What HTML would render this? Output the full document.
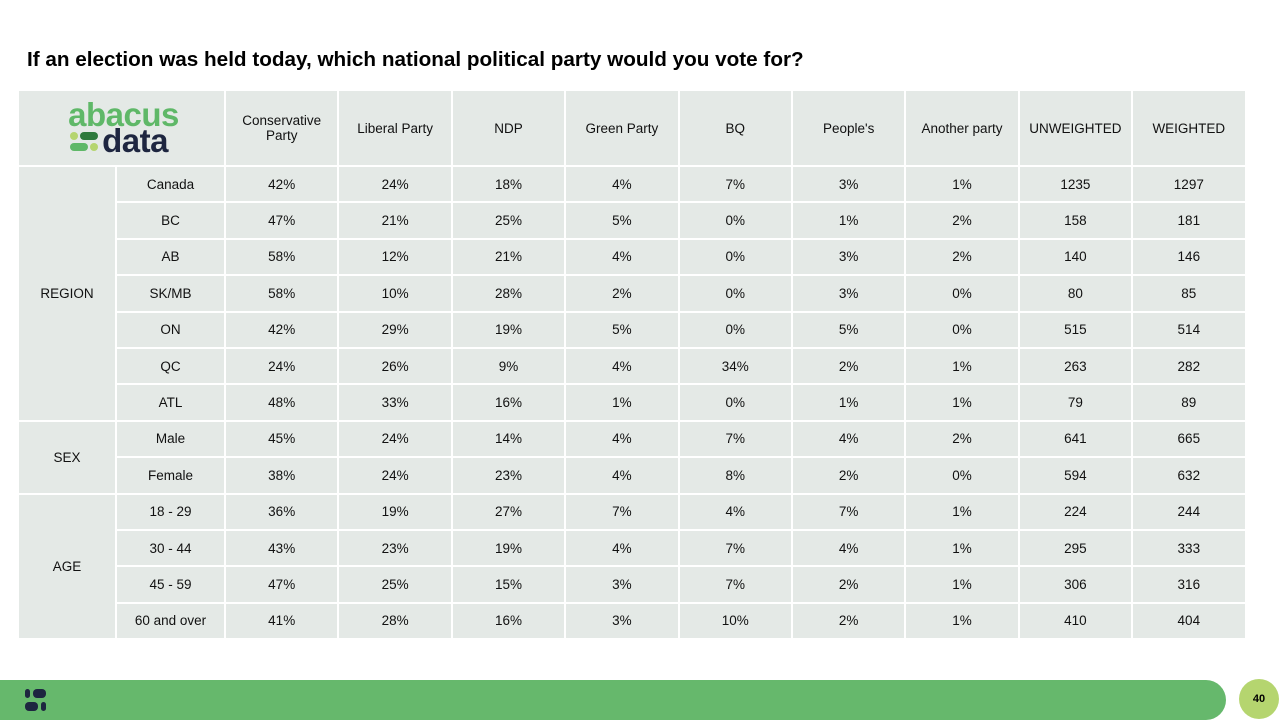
<!DOCTYPE html>
<html><head><meta charset="utf-8"><style>
body{margin:0;width:1280px;height:720px;background:#fff;position:relative;overflow:hidden;font-family:"Liberation Sans",sans-serif;}
h1{position:absolute;left:27px;top:48px;margin:0;font-size:20.7px;font-weight:bold;color:#000;}
table{position:absolute;left:17px;top:89px;border-collapse:collapse;table-layout:fixed;}
td{background:#e4e9e6;border:2px solid #fff;text-align:center;font-size:13.5px;color:#111;padding:0;height:34.4px;}
tr.h td{height:74px;}
.bar{position:absolute;left:0;top:680px;width:1226px;height:40px;background:#66b86c;border-radius:0 20px 20px 0;}
.pg{position:absolute;left:1239px;top:679px;width:40px;height:40px;border-radius:50%;background:#b5d56f;font-size:11px;font-weight:bold;text-align:center;line-height:40px;}
</style></head><body>
<h1>If an election was held today, which national political party would you vote for?</h1>
<table>
<colgroup><col style="width:98px"><col style="width:109px"><col span="9" style="width:113.4px"></colgroup>
<tr class="h"><td colspan="2">
<div style="display:inline-block;text-align:left;line-height:26px;font-weight:bold;font-size:33px;letter-spacing:-0.5px;margin-left:4px">
<div style="color:#5fb868">abacus</div>
<div style="color:#1e2640;position:relative;padding-left:34px"><span style="position:absolute;left:2px;top:4px;width:8px;height:8px;border-radius:50%;background:#b5d56f"></span><span style="position:absolute;left:12px;top:4px;width:18px;height:8px;border-radius:4px;background:#2e7a3c"></span><span style="position:absolute;left:2px;top:15px;width:18px;height:8px;border-radius:4px;background:#5fb868"></span><span style="position:absolute;left:22px;top:15px;width:8px;height:8px;border-radius:50%;background:#b5d56f"></span>data</div></div></td>
<td>Conservative<br>Party</td><td>Liberal Party</td><td>NDP</td><td>Green Party</td><td>BQ</td><td>People's</td><td>Another party</td><td>UNWEIGHTED</td><td>WEIGHTED</td></tr>
<tr><td rowspan="7">REGION</td><td>Canada</td><td>42%</td><td>24%</td><td>18%</td><td>4%</td><td>7%</td><td>3%</td><td>1%</td><td>1235</td><td>1297</td></tr>
<tr><td>BC</td><td>47%</td><td>21%</td><td>25%</td><td>5%</td><td>0%</td><td>1%</td><td>2%</td><td>158</td><td>181</td></tr>
<tr><td>AB</td><td>58%</td><td>12%</td><td>21%</td><td>4%</td><td>0%</td><td>3%</td><td>2%</td><td>140</td><td>146</td></tr>
<tr><td>SK/MB</td><td>58%</td><td>10%</td><td>28%</td><td>2%</td><td>0%</td><td>3%</td><td>0%</td><td>80</td><td>85</td></tr>
<tr><td>ON</td><td>42%</td><td>29%</td><td>19%</td><td>5%</td><td>0%</td><td>5%</td><td>0%</td><td>515</td><td>514</td></tr>
<tr><td>QC</td><td>24%</td><td>26%</td><td>9%</td><td>4%</td><td>34%</td><td>2%</td><td>1%</td><td>263</td><td>282</td></tr>
<tr><td>ATL</td><td>48%</td><td>33%</td><td>16%</td><td>1%</td><td>0%</td><td>1%</td><td>1%</td><td>79</td><td>89</td></tr>
<tr><td rowspan="2">SEX</td><td>Male</td><td>45%</td><td>24%</td><td>14%</td><td>4%</td><td>7%</td><td>4%</td><td>2%</td><td>641</td><td>665</td></tr>
<tr><td>Female</td><td>38%</td><td>24%</td><td>23%</td><td>4%</td><td>8%</td><td>2%</td><td>0%</td><td>594</td><td>632</td></tr>
<tr><td rowspan="4">AGE</td><td>18 - 29</td><td>36%</td><td>19%</td><td>27%</td><td>7%</td><td>4%</td><td>7%</td><td>1%</td><td>224</td><td>244</td></tr>
<tr><td>30 - 44</td><td>43%</td><td>23%</td><td>19%</td><td>4%</td><td>7%</td><td>4%</td><td>1%</td><td>295</td><td>333</td></tr>
<tr><td>45 - 59</td><td>47%</td><td>25%</td><td>15%</td><td>3%</td><td>7%</td><td>2%</td><td>1%</td><td>306</td><td>316</td></tr>
<tr><td>60 and over</td><td>41%</td><td>28%</td><td>16%</td><td>3%</td><td>10%</td><td>2%</td><td>1%</td><td>410</td><td>404</td></tr>
</table>
<div class="bar">
<span style="position:absolute;left:25px;top:9px;width:5px;height:9px;border-radius:3px;background:#1e2640"></span>
<span style="position:absolute;left:33px;top:9px;width:13px;height:9px;border-radius:4px;background:#1e2640"></span>
<span style="position:absolute;left:25px;top:22px;width:13px;height:9px;border-radius:4px;background:#1e2640"></span>
<span style="position:absolute;left:41px;top:22px;width:5px;height:9px;border-radius:3px;background:#1e2640"></span>
</div>
<div class="pg">40</div>
</body></html>
